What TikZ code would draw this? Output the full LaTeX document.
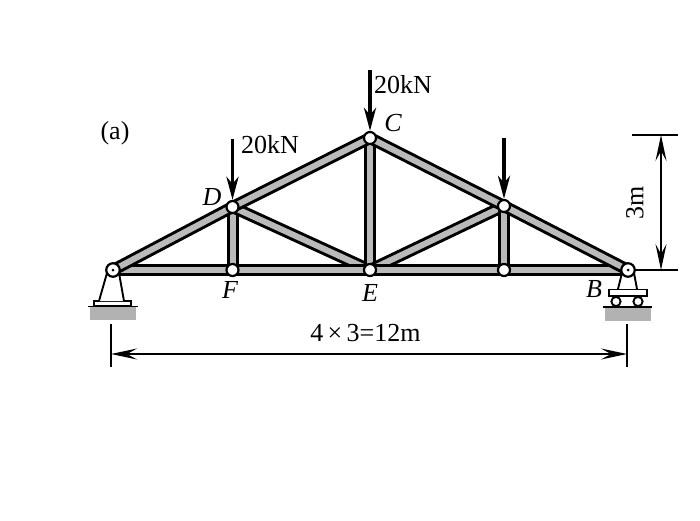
\documentclass[tikz,border=0pt]{standalone}
\usepackage{fontspec}
\setmainfont{Liberation Serif}
\usetikzlibrary{arrows.meta}
\tikzset{
  member/.style={line width=3pt,double=black!27,double distance=6pt},
  joint/.style={circle,draw,line width=2.2pt,fill=white,minimum size=12pt,inner sep=0pt},
  pin/.style={joint,minimum size=13.5pt},
  support/.style={line width=1.9pt,fill=white},
  ground/.style={fill=black!30,draw=none},
  load/.style={line width=3.8pt,-{Stealth[length=23pt,width=12pt,inset=7pt]}},
  dimline/.style={line width=1.5pt},
  dimarrow/.style={line width=1.5pt,{Stealth[length=26pt,width=11pt,inset=10pt]}-{Stealth[length=26pt,width=11pt,inset=10pt]}},
  lbl/.style={font=\fontsize{26}{26}\selectfont,inner sep=0pt},
  pt/.style={font=\fontsize{26}{26}\selectfont\itshape,inner sep=0pt}
}
\begin{document}
\begin{tikzpicture}[x=1pt,y=-1pt]
\useasboundingbox (0,0) rectangle (700,520);
\coordinate (A) at (113,270);
\coordinate (B) at (628,270);
\coordinate (C) at (370,138);
\coordinate (D) at (232.5,207);
\coordinate (E) at (370,270);
\coordinate (F) at (232.5,270);
\coordinate (G) at (504,206);
\coordinate (H) at (504,270);
% web members first, chords on top
\draw[member] (D) -- (F);
\draw[member] (D) -- (E);
\draw[member] (C) -- (E);
\draw[member] (G) -- (E);
\draw[member] (G) -- (H);
\draw[member] (A) -- (B);
\draw[member] (A) -- (D);
\draw[member] (D) -- (C);
\draw[member] (C) -- (G);
\draw[member] (G) -- (B);
% left support
\fill[ground] (90,306) rectangle (136,320);
\draw[support] (94,301) rectangle (131,306);
\draw[support] (99,301) -- (107,273) -- (119,273) -- (124,301);
\draw[line width=1.9pt] (88,306.5) -- (138,306.5);
% right support
\fill[ground] (605,308) rectangle (651,321);
\draw[line width=1.9pt] (603,307) -- (652,307);
\draw[support] (618,289) -- (622,273) -- (634,273) -- (637,289);
\draw[support] (609,289.5) rectangle (647,296);
\draw[support] (616,301.5) circle (4.6);
\draw[support] (638,301.5) circle (4.6);
% thin extension line behind the right pin
\coordinate (dimBr) at (678,270);
\draw[dimline] (B) -- (dimBr);
% joints
\node[pin] (jA) at (A) {};
\node[pin] (jB) at (B) {};
\node[joint] (jC) at (C) {};
\node[joint] (jD) at (D) {};
\node[joint] (jE) at (E) {};
\node[joint] (jF) at (F) {};
\node[joint] (jG) at (G) {};
\node[joint] (jH) at (H) {};
\fill (A) circle (1.5);
\fill (B) circle (1.5);
% loads
\coordinate (loadC) at (370,70);
\coordinate (loadD) at (232.5,139);
\coordinate (loadG) at (504,138);
\draw[load] (loadC) -- (jC);
\draw[load] (loadD) -- (jD);
\draw[load] (loadG) -- (jG);
% dimensions
\coordinate (dimLt) at (111,324);
\coordinate (dimLb) at (111,367);
\coordinate (dimRt) at (627,324);
\coordinate (dimRb) at (627,367);
\coordinate (dimL) at (111,354);
\coordinate (dimR) at (627,354);
\draw[dimline] (dimLt) -- (dimLb);
\draw[dimline] (dimRt) -- (dimRb);
\draw[dimarrow] (dimL) -- (dimR);
\coordinate (dimTl) at (632,135);
\coordinate (dimTr) at (678,135);
\coordinate (dimT) at (661,135);
\coordinate (dimB) at (661,270);
\draw[dimline] (dimTl) -- (dimTr);
\draw[dimarrow] (dimT) -- (dimB);
% labels
\node[lbl] (la) at (115,133) {(a)};
\node[lbl] (l1) at (403,85) {20kN};
\node[lbl] (l2) at (270,145) {20kN};
\node[lbl,rotate=90] (l3) at (635,203) {3m};
\node[lbl] (l4) at (365.5,333) {4\,×\,3=12m};
\node[pt] (lC) at (393,123) {C};
\node[pt] (lD) at (212,197) {D};
\node[pt] (lF) at (230,290) {F};
\node[pt] (lE) at (370,293) {E};
\node[pt] (lB) at (594,289) {B};
\end{tikzpicture}
\end{document}
